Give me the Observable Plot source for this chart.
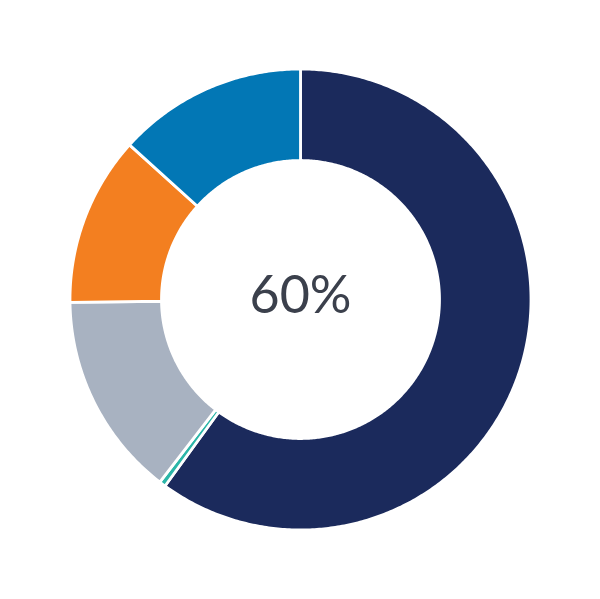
<!DOCTYPE html>
<html>
<head>
<meta charset="utf-8">
<script src="https://cdn.jsdelivr.net/npm/d3@7"></script>
<script src="https://cdn.jsdelivr.net/npm/@observablehq/plot@0.6"></script>
<style>
  html, body { margin: 0; padding: 0; background: #fff; }
  #chart { width: 600px; height: 599px; }
</style>
</head>
<body>
<div id="chart"></div>
<script>
const categories = ["A", "B", "C", "D", "E"];
const values = [60, 0.45, 14.35, 11.9, 13.3];
const colors = ["#1b2a5c", "#2bb6a8", "#a8b2c1", "#f37f20", "#0277b5"];
const centerLabel = "60%";

const outerR = 230.5;
const innerR = 139;

const pie = d3.pie().sort(null).value(d => d.value)(
  categories.map((c, i) => ({ category: c, value: values[i] }))
);

const pts = [];
pie.forEach(s => {
  const n = Math.max(4, Math.ceil((s.endAngle - s.startAngle) / 0.01));
  for (let k = 0; k <= n; k++) {
    const a = s.startAngle + (s.endAngle - s.startAngle) * k / n;
    pts.push({ category: s.data.category, x: outerR * Math.sin(a), y: outerR * Math.cos(a) });
  }
  for (let k = n; k >= 0; k--) {
    const a = s.startAngle + (s.endAngle - s.startAngle) * k / n;
    pts.push({ category: s.data.category, x: innerR * Math.sin(a), y: innerR * Math.cos(a) });
  }
});

const chart = Plot.plot({
  width: 600,
  height: 599,
  margin: 0,
  x: { domain: [-300, 300], axis: null },
  y: { domain: [-300, 299], axis: null },
  color: { domain: categories, range: colors },
  style: { background: "#fff" },
  marks: [
    Plot.line(pts, {
      x: "x", y: "y", z: "category",
      fill: "category",
      stroke: "#fff",
      strokeWidth: 2.8,
      curve: "linear-closed"
    }),
    Plot.text([centerLabel], {
      x: () => 0, y: () => 0,
      text: d => d,
      fontSize: 52,
      fontWeight: 400,
      fontFamily: "Lato",
      fill: "#3b404c",
      dy: -3
    })
  ]
});
document.getElementById("chart").appendChild(chart);
</script>
</body>
</html>
